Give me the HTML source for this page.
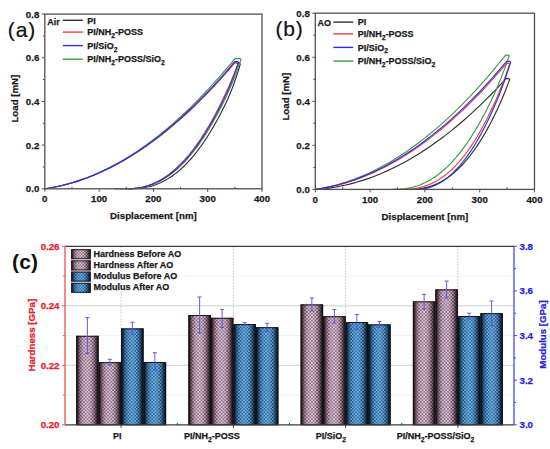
<!DOCTYPE html>
<html><head><meta charset="utf-8"><style>
html,body{margin:0;padding:0;background:#fff;width:550px;height:449px;overflow:hidden}
svg{display:block}
</style></head><body>
<svg width="550" height="449" viewBox="0 0 550 449">
<defs>
<style>
text{font-family:"Liberation Sans",sans-serif;}
.tl{font-size:9.7px;font-weight:bold;fill:#1a1a1a;stroke:#1a1a1a;stroke-width:0.25px}
.lg{font-size:9px;font-weight:bold;fill:#1a1a1a;stroke:#1a1a1a;stroke-width:0.25px}
.sub{font-size:6.8px}
.big{font-size:21px;letter-spacing:0.85px;fill:#111;stroke:#111;stroke-width:0.2px}
.lr{font-size:9.7px;font-weight:bold;fill:#e8202a;stroke:#e8202a;stroke-width:0.25px}
.lb{font-size:9.7px;font-weight:bold;fill:#2424e0;stroke:#2424e0;stroke-width:0.25px}
</style>
<linearGradient id="gp" x1="0" x2="1" y1="0" y2="0">
<stop offset="0" stop-color="#0e080c"/><stop offset="0.06" stop-color="#2a1a24"/><stop offset="0.18" stop-color="#7a5a6e"/><stop offset="0.32" stop-color="#b698ae"/><stop offset="0.5" stop-color="#c6a8be"/><stop offset="0.65" stop-color="#b292a8"/><stop offset="0.8" stop-color="#6c4e62"/><stop offset="0.92" stop-color="#2a1a24"/><stop offset="1" stop-color="#0e080c"/>
</linearGradient>
<linearGradient id="gb" x1="0" x2="1" y1="0" y2="0">
<stop offset="0" stop-color="#040810"/><stop offset="0.06" stop-color="#0a1a30"/><stop offset="0.18" stop-color="#285888"/><stop offset="0.32" stop-color="#4888c2"/><stop offset="0.5" stop-color="#569ed8"/><stop offset="0.65" stop-color="#488ac6"/><stop offset="0.8" stop-color="#22507c"/><stop offset="0.92" stop-color="#0a1a30"/><stop offset="1" stop-color="#040810"/>
</linearGradient>
<pattern id="chkp" width="3.4" height="3.4" patternUnits="userSpaceOnUse">
<rect width="1.7" height="1.7" fill="#ffe8f8" fill-opacity="0.45"/><rect x="1.7" y="1.7" width="1.7" height="1.7" fill="#ffe8f8" fill-opacity="0.45"/>
<rect x="1.7" width="1.7" height="1.7" fill="#100008" fill-opacity="0.26"/><rect y="1.7" width="1.7" height="1.7" fill="#100008" fill-opacity="0.26"/>
</pattern>
<pattern id="chkb" width="3.4" height="3.4" patternUnits="userSpaceOnUse">
<rect width="1.7" height="1.7" fill="#8cd0ff" fill-opacity="0.45"/><rect x="1.7" y="1.7" width="1.7" height="1.7" fill="#8cd0ff" fill-opacity="0.45"/>
<rect x="1.7" width="1.7" height="1.7" fill="#000818" fill-opacity="0.28"/><rect y="1.7" width="1.7" height="1.7" fill="#000818" fill-opacity="0.28"/>
</pattern>
<pattern id="chkp2" width="3" height="3" patternUnits="userSpaceOnUse">
<rect width="1.5" height="1.5" fill="#ffe8f8" fill-opacity="0.45"/><rect x="1.5" y="1.5" width="1.5" height="1.5" fill="#ffe8f8" fill-opacity="0.45"/>
<rect x="1.5" width="1.5" height="1.5" fill="#100008" fill-opacity="0.26"/><rect y="1.5" width="1.5" height="1.5" fill="#100008" fill-opacity="0.26"/>
</pattern>
<pattern id="chkb2" width="3" height="3" patternUnits="userSpaceOnUse">
<rect width="1.5" height="1.5" fill="#8cd0ff" fill-opacity="0.45"/><rect x="1.5" y="1.5" width="1.5" height="1.5" fill="#8cd0ff" fill-opacity="0.45"/>
<rect x="1.5" width="1.5" height="1.5" fill="#000818" fill-opacity="0.28"/><rect y="1.5" width="1.5" height="1.5" fill="#000818" fill-opacity="0.28"/>
</pattern>
<linearGradient id="mg" x1="0" x2="1" y1="0" y2="0">
<stop offset="0" stop-color="#fff" stop-opacity="0"/><stop offset="0.1" stop-color="#fff" stop-opacity="0.3"/><stop offset="0.25" stop-color="#fff" stop-opacity="1"/><stop offset="0.75" stop-color="#fff" stop-opacity="1"/><stop offset="0.9" stop-color="#fff" stop-opacity="0.35"/><stop offset="1" stop-color="#fff" stop-opacity="0"/>
</linearGradient>
<mask id="mk" maskContentUnits="objectBoundingBox"><rect width="1" height="1" fill="url(#mg)"/></mask>
</defs>
<rect width="550" height="449" fill="#fff"/>
<path d="M44.8,188.8 L48.61,188.21 L52.42,187.54 L56.24,186.79 L60.05,185.96 L63.86,185.05 L67.67,184.06 L71.48,183 L75.29,181.85 L79.11,180.62 L82.92,179.32 L86.73,177.93 L90.54,176.47 L94.35,174.92 L98.17,173.3 L101.98,171.59 L105.79,169.81 L109.6,167.95 L113.41,166.01 L117.23,163.99 L121.04,161.89 L124.85,159.71 L128.66,157.45 L132.47,155.11 L136.28,152.69 L140.1,150.19 L143.91,147.61 L147.72,144.96 L151.53,142.22 L155.34,139.41 L159.16,136.51 L162.97,133.54 L166.78,130.48 L170.59,127.35 L174.4,124.14 L178.22,120.84 L182.03,117.47 L185.84,114.02 L189.65,110.49 L193.46,106.88 L197.27,103.19 L201.09,99.42 L204.9,95.57 L208.71,91.64 L212.52,87.64 L216.33,83.55 L220.15,79.38 L223.96,75.14 L227.77,70.81 L231.58,66.41 L235.39,61.92 L236.21,63.23 L239.63,63.23 L240.28,64.11 L239.04,68.22 L237.81,72.18 L236.57,76 L235.33,79.68 L234.1,83.21 L232.86,86.6 L231.62,89.85 L230.39,92.95 L229.15,95.9 L227.91,98.72 L226.67,101.39 L225.44,103.97 L224.2,106.51 L222.96,109 L221.73,111.45 L220.49,113.85 L219.25,116.21 L218.02,118.53 L216.78,120.8 L215.54,123.03 L214.31,125.22 L213.07,127.37 L211.83,129.47 L210.6,131.54 L209.36,133.56 L208.12,135.53 L206.89,137.47 L205.65,139.37 L204.41,141.22 L203.18,143.04 L201.94,144.81 L200.7,146.54 L199.46,148.24 L198.23,149.89 L196.99,151.51 L195.75,153.08 L194.52,154.62 L193.28,156.12 L192.04,157.58 L190.81,159 L189.57,160.38 L188.33,161.73 L187.1,163.03 L185.86,164.3 L184.62,165.54 L183.39,166.74 L182.15,167.9 L180.91,169.02 L179.68,170.11 L178.44,171.17 L177.2,172.19 L175.96,173.17 L174.73,174.12 L173.49,175.04 L172.25,175.92 L171.02,176.77 L169.78,177.59 L168.54,178.37 L167.31,179.12 L166.07,179.84 L164.83,180.52 L163.6,181.18 L162.36,181.8 L161.12,182.4 L159.89,182.96 L158.65,183.5 L157.41,184 L156.18,184.48 L154.94,184.93 L153.7,185.35 L152.46,185.74 L151.23,186.1 L149.99,186.44 L148.75,186.76 L147.52,187.04 L146.28,187.31 L145.04,187.55 L143.81,187.76 L142.57,187.95 L141.33,188.12 L140.1,188.27 L138.86,188.4 L137.62,188.51 L136.39,188.6 L135.15,188.67 L133.91,188.72 L132.68,188.76 L131.44,188.78 L130.2,188.8 L128.97,188.8" fill="none" stroke="#303030" stroke-width="1.15" stroke-linejoin="round"/>
<path d="M44.8,188.8 L48.6,188.21 L52.4,187.54 L56.2,186.8 L60,185.97 L63.8,185.06 L67.61,184.08 L71.41,183.01 L75.21,181.87 L79.01,180.65 L82.81,179.35 L86.61,177.97 L90.41,176.51 L94.21,174.97 L98.01,173.35 L101.81,171.65 L105.62,169.87 L109.42,168.02 L113.22,166.08 L117.02,164.07 L120.82,161.98 L124.62,159.8 L128.42,157.55 L132.22,155.22 L136.02,152.81 L139.82,150.32 L143.63,147.75 L147.43,145.11 L151.23,142.38 L155.03,139.57 L158.83,136.69 L162.63,133.72 L166.43,130.68 L170.23,127.56 L174.03,124.36 L177.83,121.07 L181.64,117.71 L185.44,114.28 L189.24,110.76 L193.04,107.16 L196.84,103.48 L200.64,99.73 L204.44,95.89 L208.24,91.98 L212.04,87.98 L215.84,83.91 L219.65,79.76 L223.45,75.53 L227.25,71.22 L231.05,66.83 L234.85,62.36 L235.66,62.58 L237.46,62.58 L238.11,63.45 L236.86,66.74 L235.61,69.97 L234.36,73.13 L233.11,76.23 L231.86,79.27 L230.61,82.25 L229.36,85.16 L228.11,88.01 L226.86,90.8 L225.61,93.53 L224.36,96.2 L223.11,98.82 L221.86,101.4 L220.61,103.94 L219.37,106.43 L218.12,108.88 L216.87,111.3 L215.62,113.67 L214.37,116 L213.12,118.29 L211.87,120.53 L210.62,122.74 L209.37,124.91 L208.12,127.04 L206.87,129.13 L205.62,131.17 L204.37,133.18 L203.12,135.15 L201.87,137.08 L200.62,138.97 L199.37,140.82 L198.12,142.63 L196.87,144.41 L195.62,146.14 L194.38,147.84 L193.13,149.5 L191.88,151.12 L190.63,152.7 L189.38,154.25 L188.13,155.75 L186.88,157.22 L185.63,158.66 L184.38,160.05 L183.13,161.41 L181.88,162.74 L180.63,164.02 L179.38,165.27 L178.13,166.49 L176.88,167.67 L175.63,168.81 L174.38,169.92 L173.13,170.99 L171.88,172.03 L170.63,173.03 L169.39,174 L168.14,174.94 L166.89,175.84 L165.64,176.71 L164.39,177.54 L163.14,178.34 L161.89,179.11 L160.64,179.85 L159.39,180.55 L158.14,181.22 L156.89,181.86 L155.64,182.47 L154.39,183.05 L153.14,183.6 L151.89,184.12 L150.64,184.6 L149.39,185.06 L148.14,185.49 L146.89,185.89 L145.64,186.26 L144.4,186.61 L143.15,186.92 L141.9,187.21 L140.65,187.47 L139.4,187.71 L138.15,187.92 L136.9,188.11 L135.65,188.27 L134.4,188.41 L133.15,188.52 L131.9,188.62 L130.65,188.69 L129.4,188.74 L128.15,188.78 L126.9,188.8 L125.65,188.8" fill="none" stroke="#ee3e44" stroke-width="1.15" stroke-linejoin="round"/>
<path d="M44.8,188.8 L48.6,188.21 L52.4,187.54 L56.2,186.78 L60,185.94 L63.8,185.03 L67.61,184.02 L71.41,182.94 L75.21,181.78 L79.01,180.53 L82.81,179.2 L86.61,177.79 L90.41,176.29 L94.21,174.72 L98.01,173.06 L101.81,171.32 L105.62,169.49 L109.42,167.59 L113.22,165.6 L117.02,163.53 L120.82,161.38 L124.62,159.15 L128.42,156.83 L132.22,154.43 L136.02,151.95 L139.82,149.39 L143.63,146.75 L147.43,144.02 L151.23,141.21 L155.03,138.32 L158.83,135.35 L162.63,132.3 L166.43,129.16 L170.23,125.94 L174.03,122.64 L177.83,119.26 L181.64,115.79 L185.44,112.24 L189.24,108.61 L193.04,104.9 L196.84,101.11 L200.64,97.23 L204.44,93.27 L208.24,89.23 L212.04,85.11 L215.84,80.9 L219.65,76.62 L223.45,72.25 L227.25,67.8 L231.05,63.26 L234.85,58.65 L235.66,58.65 L240.33,58.65 L240.99,59.52 L239.7,63.22 L238.42,66.83 L237.14,70.34 L235.86,73.76 L234.58,77.08 L233.3,80.31 L232.02,83.44 L230.73,86.48 L229.45,89.43 L228.17,92.28 L226.89,95.04 L225.61,97.75 L224.33,100.42 L223.05,103.04 L221.76,105.62 L220.48,108.15 L219.2,110.64 L217.92,113.08 L216.64,115.48 L215.36,117.84 L214.07,120.15 L212.79,122.42 L211.51,124.64 L210.23,126.83 L208.95,128.97 L207.67,131.07 L206.39,133.12 L205.1,135.14 L203.82,137.11 L202.54,139.04 L201.26,140.93 L199.98,142.78 L198.7,144.58 L197.42,146.35 L196.13,148.07 L194.85,149.76 L193.57,151.4 L192.29,153.01 L191.01,154.57 L189.73,156.1 L188.45,157.58 L187.16,159.03 L185.88,160.44 L184.6,161.81 L183.32,163.14 L182.04,164.44 L180.76,165.69 L179.47,166.91 L178.19,168.09 L176.91,169.24 L175.63,170.35 L174.35,171.42 L173.07,172.45 L171.79,173.45 L170.5,174.42 L169.22,175.34 L167.94,176.24 L166.66,177.1 L165.38,177.92 L164.1,178.71 L162.82,179.47 L161.53,180.19 L160.25,180.89 L158.97,181.54 L157.69,182.17 L156.41,182.77 L155.13,183.33 L153.85,183.86 L152.56,184.36 L151.28,184.83 L150,185.28 L148.72,185.69 L147.44,186.07 L146.16,186.43 L144.87,186.76 L143.59,187.06 L142.31,187.33 L141.03,187.58 L139.75,187.8 L138.47,188 L137.19,188.17 L135.9,188.32 L134.62,188.45 L133.34,188.55 L132.06,188.64 L130.78,188.7 L129.5,188.75 L128.22,188.78 L126.93,188.8 L125.65,188.8 L114.3,188.8" fill="none" stroke="#3c9c44" stroke-width="1.15" stroke-linejoin="round"/>
<path d="M44.8,188.8 L48.6,188.21 L52.4,187.54 L56.2,186.79 L60,185.96 L63.8,185.05 L67.61,184.07 L71.41,183 L75.21,181.85 L79.01,180.62 L82.81,179.31 L86.61,177.92 L90.41,176.45 L94.21,174.91 L98.01,173.28 L101.81,171.57 L105.62,169.78 L109.42,167.92 L113.22,165.97 L117.02,163.94 L120.82,161.84 L124.62,159.65 L128.42,157.38 L132.22,155.04 L136.02,152.61 L139.82,150.1 L143.63,147.52 L147.43,144.85 L151.23,142.1 L155.03,139.28 L158.83,136.37 L162.63,133.39 L166.43,130.32 L170.23,127.18 L174.03,123.95 L177.83,120.65 L181.64,117.26 L185.44,113.8 L189.24,110.25 L193.04,106.63 L196.84,102.92 L200.64,99.14 L204.44,95.28 L208.24,91.33 L212.04,87.31 L215.84,83.2 L219.65,79.02 L223.45,74.76 L227.25,70.41 L231.05,65.99 L234.85,61.49 L235.66,61.49 L238,61.49 L238.65,62.36 L237.4,65.99 L236.14,69.53 L234.88,72.97 L233.63,76.31 L232.37,79.56 L231.12,82.71 L229.86,85.77 L228.61,88.73 L227.35,91.6 L226.1,94.37 L224.84,97.05 L223.58,99.68 L222.33,102.25 L221.07,104.79 L219.82,107.28 L218.56,109.73 L217.31,112.14 L216.05,114.51 L214.8,116.84 L213.54,119.12 L212.28,121.37 L211.03,123.57 L209.77,125.73 L208.52,127.85 L207.26,129.93 L206.01,131.97 L204.75,133.97 L203.5,135.93 L202.24,137.85 L200.98,139.73 L199.73,141.57 L198.47,143.37 L197.22,145.14 L195.96,146.86 L194.71,148.54 L193.45,150.19 L192.2,151.8 L190.94,153.37 L189.69,154.9 L188.43,156.39 L187.17,157.85 L185.92,159.26 L184.66,160.64 L183.41,161.99 L182.15,163.3 L180.9,164.57 L179.64,165.8 L178.39,167 L177.13,168.16 L175.87,169.29 L174.62,170.38 L173.36,171.44 L172.11,172.46 L170.85,173.45 L169.6,174.4 L168.34,175.32 L167.09,176.21 L165.83,177.06 L164.57,177.87 L163.32,178.66 L162.06,179.41 L160.81,180.13 L159.55,180.82 L158.3,181.48 L157.04,182.1 L155.79,182.7 L154.53,183.26 L153.27,183.79 L152.02,184.3 L150.76,184.77 L149.51,185.21 L148.25,185.63 L147,186.01 L145.74,186.37 L144.49,186.7 L143.23,187.01 L141.97,187.29 L140.72,187.54 L139.46,187.77 L138.21,187.97 L136.95,188.14 L135.7,188.3 L134.44,188.43 L133.19,188.54 L131.93,188.63 L130.67,188.7 L129.42,188.75 L128.16,188.78 L126.91,188.8 L125.65,188.8" fill="none" stroke="#2e2ee8" stroke-width="1.15" stroke-linejoin="round"/>
<rect x="44.8" y="14.1" width="217.2" height="174.7" fill="none" stroke="#505050" stroke-width="1.3"/>
<path d="M44.8,188.8 v3 M99.1,188.8 v3 M153.4,188.8 v3 M207.7,188.8 v3 M262,188.8 v3 M71.95,188.8 v-2 M126.25,188.8 v-2 M180.55,188.8 v-2 M234.85,188.8 v-2 M44.8,188.8 h-3 M44.8,145.12 h-3 M44.8,101.45 h-3 M44.8,57.78 h-3 M44.8,14.1 h-3 M44.8,166.96 h-2 M44.8,123.29 h-2 M44.8,79.61 h-2 M44.8,35.94 h-2" stroke="#505050" stroke-width="1" fill="none"/>
<text x="44.8" y="202.4" text-anchor="middle" class="tl">0</text>
<text x="99.1" y="202.4" text-anchor="middle" class="tl">100</text>
<text x="153.4" y="202.4" text-anchor="middle" class="tl">200</text>
<text x="207.7" y="202.4" text-anchor="middle" class="tl">300</text>
<text x="262" y="202.4" text-anchor="middle" class="tl">400</text>
<text x="39.3" y="192.3" text-anchor="end" class="tl">0.0</text>
<text x="39.3" y="148.62" text-anchor="end" class="tl">0.2</text>
<text x="39.3" y="104.95" text-anchor="end" class="tl">0.4</text>
<text x="39.3" y="61.28" text-anchor="end" class="tl">0.6</text>
<text x="39.3" y="17.6" text-anchor="end" class="tl">0.8</text>
<text x="153.4" y="219.2" text-anchor="middle" class="tl">Displacement [nm]</text>
<text transform="translate(18.4,98.6) rotate(-90)" text-anchor="middle" class="tl">Load [mN]</text>
<text x="7.8" y="37" class="big">(a)</text>
<text x="47.3" y="24.5" class="lg">Air</text>
<path d="M62.8,20.3 h20" stroke="#303030" stroke-width="1.4"/>
<text x="87.2" y="23.5" class="lg">PI</text>
<path d="M62.8,32.1 h20" stroke="#ee3e44" stroke-width="1.4"/>
<text x="87.2" y="35.3" class="lg">PI/NH<tspan class="sub" dy="2.8">2</tspan><tspan dy="-2.8">-POSS</tspan></text>
<path d="M62.8,45.6 h20" stroke="#2e2ee8" stroke-width="1.4"/>
<text x="87.2" y="48.8" class="lg">PI/SiO<tspan class="sub" dy="2.8">2</tspan></text>
<path d="M62.8,59.2 h20" stroke="#3c9c44" stroke-width="1.4"/>
<text x="87.2" y="62.4" class="lg">PI/NH<tspan class="sub" dy="2.8">2</tspan><tspan dy="-2.8">-POSS/SiO</tspan><tspan class="sub" dy="2.8">2</tspan></text>
<path d="M315.3,189.4 L319.11,189.13 L322.93,188.77 L326.74,188.34 L330.56,187.83 L334.37,187.23 L338.18,186.56 L342,185.81 L345.81,184.98 L349.63,184.08 L353.44,183.09 L357.25,182.02 L361.07,180.87 L364.88,179.65 L368.7,178.34 L372.51,176.96 L376.33,175.5 L380.14,173.95 L383.95,172.33 L387.77,170.63 L391.58,168.85 L395.4,166.99 L399.21,165.05 L403.02,163.04 L406.84,160.94 L410.65,158.76 L414.47,156.51 L418.28,154.17 L422.09,151.76 L425.91,149.27 L429.72,146.7 L433.54,144.04 L437.35,141.31 L441.16,138.5 L444.98,135.61 L448.79,132.65 L452.61,129.6 L456.42,126.47 L460.24,123.27 L464.05,119.98 L467.86,116.62 L471.68,113.17 L475.49,109.65 L479.31,106.05 L483.12,102.37 L486.93,98.61 L490.75,94.77 L494.56,90.85 L498.38,86.85 L502.19,82.77 L506,78.61 L506.83,78.61 L508.96,78.61 L509.62,79.5 L508.48,82.58 L507.35,85.61 L506.21,88.57 L505.07,91.47 L503.93,94.3 L502.8,97.07 L501.66,99.78 L500.52,102.42 L499.38,105 L498.25,107.52 L497.11,109.97 L495.97,112.36 L494.83,114.7 L493.7,117 L492.56,119.26 L491.42,121.47 L490.28,123.65 L489.15,125.78 L488.01,127.87 L486.87,129.92 L485.74,131.93 L484.6,133.9 L483.46,135.83 L482.32,137.72 L481.19,139.57 L480.05,141.39 L478.91,143.16 L477.77,144.89 L476.64,146.59 L475.5,148.25 L474.36,149.87 L473.22,151.45 L472.09,153 L470.95,154.5 L469.81,155.98 L468.67,157.41 L467.54,158.81 L466.4,160.17 L465.26,161.49 L464.12,162.78 L462.99,164.04 L461.85,165.26 L460.71,166.44 L459.58,167.59 L458.44,168.71 L457.3,169.79 L456.16,170.84 L455.03,171.85 L453.89,172.84 L452.75,173.79 L451.61,174.7 L450.48,175.59 L449.34,176.44 L448.2,177.26 L447.06,178.05 L445.93,178.81 L444.79,179.54 L443.65,180.24 L442.51,180.91 L441.38,181.55 L440.24,182.16 L439.1,182.74 L437.96,183.3 L436.83,183.82 L435.69,184.32 L434.55,184.79 L433.41,185.24 L432.28,185.66 L431.14,186.05 L430,186.42 L428.87,186.76 L427.73,187.08 L426.59,187.38 L425.45,187.65 L424.32,187.9 L423.18,188.13 L422.04,188.34 L420.9,188.52 L419.77,188.69 L418.63,188.83 L417.49,188.96 L416.35,189.07 L415.22,189.16 L414.08,189.23 L412.94,189.29 L411.8,189.34 L410.67,189.37 L409.53,189.39 L408.39,189.4 L407.25,189.4" fill="none" stroke="#303030" stroke-width="1.15" stroke-linejoin="round"/>
<path d="M315.3,189.4 L319.11,188.8 L322.91,188.11 L326.72,187.33 L330.53,186.47 L334.33,185.53 L338.14,184.5 L341.94,183.38 L345.75,182.19 L349.56,180.9 L353.36,179.53 L357.17,178.08 L360.98,176.54 L364.78,174.91 L368.59,173.2 L372.4,171.41 L376.2,169.53 L380.01,167.57 L383.82,165.52 L387.62,163.38 L391.43,161.16 L395.23,158.86 L399.04,156.47 L402.85,153.99 L406.65,151.43 L410.46,148.79 L414.27,146.06 L418.07,143.25 L421.88,140.35 L425.69,137.36 L429.49,134.29 L433.3,131.14 L437.11,127.9 L440.91,124.57 L444.72,121.16 L448.52,117.67 L452.33,114.09 L456.14,110.42 L459.94,106.67 L463.75,102.84 L467.56,98.92 L471.36,94.92 L475.17,90.83 L478.98,86.65 L482.78,82.39 L486.59,78.05 L490.39,73.62 L494.2,69.1 L498.01,64.5 L501.81,59.82 L505.62,55.05 L506.44,55.05 L508.42,55.05 L509.07,55.93 L507.78,59.74 L506.48,63.46 L505.19,67.08 L503.89,70.61 L502.6,74.04 L501.31,77.38 L500.01,80.63 L498.72,83.78 L497.42,86.84 L496.13,89.8 L494.83,92.68 L493.54,95.5 L492.24,98.27 L490.95,100.99 L489.66,103.67 L488.36,106.3 L487.07,108.89 L485.77,111.43 L484.48,113.92 L483.18,116.36 L481.89,118.76 L480.59,121.12 L479.3,123.43 L478,125.69 L476.71,127.91 L475.42,130.09 L474.12,132.22 L472.83,134.3 L471.53,136.34 L470.24,138.34 L468.94,140.3 L467.65,142.21 L466.35,144.08 L465.06,145.9 L463.77,147.68 L462.47,149.42 L461.18,151.12 L459.88,152.78 L458.59,154.39 L457.29,155.97 L456,157.5 L454.7,158.99 L453.41,160.44 L452.11,161.85 L450.82,163.22 L449.53,164.55 L448.23,165.85 L446.94,167.1 L445.64,168.31 L444.35,169.49 L443.05,170.62 L441.76,171.72 L440.46,172.79 L439.17,173.81 L437.88,174.8 L436.58,175.75 L435.29,176.66 L433.99,177.54 L432.7,178.38 L431.4,179.19 L430.11,179.96 L428.81,180.7 L427.52,181.41 L426.22,182.08 L424.93,182.72 L423.64,183.32 L422.34,183.89 L421.05,184.43 L419.75,184.94 L418.46,185.42 L417.16,185.87 L415.87,186.28 L414.57,186.67 L413.28,187.03 L411.99,187.36 L410.69,187.66 L409.4,187.94 L408.1,188.18 L406.81,188.41 L405.51,188.6 L404.22,188.78 L402.92,188.93 L401.63,189.05 L400.33,189.16 L399.04,189.24 L397.75,189.31 L396.45,189.35 L395.16,189.38 L393.86,189.4 L392.57,189.4 L401.34,189.4" fill="none" stroke="#3c9c44" stroke-width="1.15" stroke-linejoin="round"/>
<path d="M315.3,189.4 L319.13,188.87 L322.95,188.25 L326.78,187.56 L330.6,186.78 L334.43,185.92 L338.25,184.98 L342.08,183.96 L345.9,182.86 L349.73,181.68 L353.55,180.42 L357.38,179.07 L361.2,177.65 L365.03,176.14 L368.85,174.55 L372.68,172.89 L376.5,171.14 L380.33,169.31 L384.15,167.39 L387.98,165.4 L391.8,163.33 L395.63,161.17 L399.45,158.94 L403.28,156.62 L407.1,154.22 L410.93,151.74 L414.75,149.18 L418.58,146.54 L422.4,143.82 L426.23,141.02 L430.05,138.13 L433.88,135.17 L437.7,132.12 L441.53,128.99 L445.35,125.78 L449.18,122.49 L453,119.12 L456.83,115.67 L460.65,112.14 L464.48,108.52 L468.3,104.83 L472.13,101.05 L475.95,97.19 L479.78,93.26 L483.6,89.24 L487.43,85.14 L491.25,80.95 L495.08,76.69 L498.9,72.35 L502.73,67.92 L506.55,63.42 L507.37,63.42 L508.96,63.42 L509.62,64.3 L508.41,67.8 L507.2,71.22 L505.99,74.58 L504.78,77.87 L503.57,81.08 L502.37,84.23 L501.16,87.31 L499.95,90.31 L498.74,93.25 L497.53,96.12 L496.32,98.92 L495.11,101.66 L493.9,104.34 L492.69,106.98 L491.48,109.57 L490.27,112.11 L489.06,114.6 L487.85,117.04 L486.64,119.44 L485.44,121.79 L484.23,124.1 L483.02,126.35 L481.81,128.56 L480.6,130.73 L479.39,132.85 L478.18,134.92 L476.97,136.95 L475.76,138.93 L474.55,140.87 L473.34,142.77 L472.13,144.62 L470.92,146.42 L469.72,148.19 L468.51,149.91 L467.3,151.58 L466.09,153.22 L464.88,154.81 L463.67,156.36 L462.46,157.87 L461.25,159.34 L460.04,160.77 L458.83,162.16 L457.62,163.51 L456.41,164.81 L455.2,166.08 L454,167.31 L452.79,168.5 L451.58,169.65 L450.37,170.77 L449.16,171.84 L447.95,172.88 L446.74,173.88 L445.53,174.85 L444.32,175.78 L443.11,176.67 L441.9,177.53 L440.69,178.35 L439.48,179.14 L438.27,179.9 L437.07,180.62 L435.86,181.31 L434.65,181.96 L433.44,182.59 L432.23,183.18 L431.02,183.74 L429.81,184.27 L428.6,184.77 L427.39,185.24 L426.18,185.68 L424.97,186.09 L423.76,186.48 L422.55,186.84 L421.35,187.17 L420.14,187.47 L418.93,187.75 L417.72,188 L416.51,188.23 L415.3,188.43 L414.09,188.62 L412.88,188.78 L411.67,188.92 L410.46,189.04 L409.25,189.14 L408.04,189.22 L406.83,189.28 L405.63,189.33 L404.42,189.37 L403.21,189.39 L402,189.4 L400.79,189.4 L394.76,189.4" fill="none" stroke="#ee3e44" stroke-width="1.15" stroke-linejoin="round"/>
<path d="M315.3,189.4 L319.13,188.82 L322.95,188.17 L326.78,187.43 L330.6,186.61 L334.43,185.71 L338.25,184.73 L342.08,183.67 L345.9,182.52 L349.73,181.3 L353.55,179.99 L357.38,178.61 L361.2,177.14 L365.03,175.59 L368.85,173.97 L372.68,172.26 L376.5,170.47 L380.33,168.59 L384.15,166.64 L387.98,164.61 L391.8,162.49 L395.63,160.3 L399.45,158.02 L403.28,155.67 L407.1,153.23 L410.93,150.71 L414.75,148.11 L418.58,145.43 L422.4,142.67 L426.23,139.83 L430.05,136.9 L433.88,133.9 L437.7,130.81 L441.53,127.65 L445.35,124.4 L449.18,121.07 L453,117.66 L456.83,114.17 L460.65,110.6 L464.48,106.95 L468.3,103.21 L472.13,99.4 L475.95,95.51 L479.78,91.53 L483.6,87.47 L487.43,83.34 L491.25,79.12 L495.08,74.82 L498.9,70.44 L502.73,65.98 L506.55,61.43 L507.37,61.43 L509.95,61.43 L510.61,62.32 L509.55,65.68 L508.49,68.97 L507.43,72.19 L506.38,75.35 L505.32,78.43 L504.26,81.45 L503.2,84.4 L502.15,87.28 L501.09,90.09 L500.03,92.83 L498.97,95.5 L497.92,98.1 L496.86,100.64 L495.8,103.13 L494.74,105.57 L493.68,107.98 L492.63,110.35 L491.57,112.68 L490.51,114.98 L489.45,117.24 L488.4,119.46 L487.34,121.64 L486.28,123.79 L485.22,125.89 L484.17,127.96 L483.11,130 L482.05,132 L480.99,133.96 L479.94,135.88 L478.88,137.77 L477.82,139.62 L476.76,141.43 L475.71,143.21 L474.65,144.95 L473.59,146.66 L472.53,148.33 L471.47,149.96 L470.42,151.56 L469.36,153.12 L468.3,154.65 L467.24,156.14 L466.19,157.6 L465.13,159.02 L464.07,160.41 L463.01,161.76 L461.96,163.07 L460.9,164.36 L459.84,165.6 L458.78,166.82 L457.73,168 L456.67,169.14 L455.61,170.25 L454.55,171.33 L453.49,172.37 L452.44,173.38 L451.38,174.36 L450.32,175.31 L449.26,176.22 L448.21,177.1 L447.15,177.94 L446.09,178.75 L445.03,179.54 L443.98,180.28 L442.92,181 L441.86,181.69 L440.8,182.34 L439.75,182.97 L438.69,183.56 L437.63,184.12 L436.57,184.65 L435.51,185.15 L434.46,185.62 L433.4,186.06 L432.34,186.47 L431.28,186.86 L430.23,187.21 L429.17,187.54 L428.11,187.83 L427.05,188.1 L426,188.35 L424.94,188.56 L423.88,188.75 L422.82,188.91 L421.77,189.05 L420.71,189.17 L419.65,189.26 L418.59,189.32 L417.53,189.37 L416.48,189.39 L415.42,189.4" fill="none" stroke="#2e2ee8" stroke-width="1.15" stroke-linejoin="round"/>
<rect x="315.3" y="13.2" width="219.2" height="176.2" fill="none" stroke="#505050" stroke-width="1.3"/>
<path d="M315.3,189.4 v3 M370.1,189.4 v3 M424.9,189.4 v3 M479.7,189.4 v3 M534.5,189.4 v3 M342.7,189.4 v-2 M397.5,189.4 v-2 M452.3,189.4 v-2 M507.1,189.4 v-2 M315.3,189.4 h-3 M315.3,145.35 h-3 M315.3,101.3 h-3 M315.3,57.25 h-3 M315.3,13.2 h-3 M315.3,167.38 h-2 M315.3,123.33 h-2 M315.3,79.28 h-2 M315.3,35.22 h-2" stroke="#505050" stroke-width="1" fill="none"/>
<text x="315.3" y="203" text-anchor="middle" class="tl">0</text>
<text x="370.1" y="203" text-anchor="middle" class="tl">100</text>
<text x="424.9" y="203" text-anchor="middle" class="tl">200</text>
<text x="479.7" y="203" text-anchor="middle" class="tl">300</text>
<text x="534.5" y="203" text-anchor="middle" class="tl">400</text>
<text x="309.8" y="192.9" text-anchor="end" class="tl">0.0</text>
<text x="309.8" y="148.85" text-anchor="end" class="tl">0.2</text>
<text x="309.8" y="104.8" text-anchor="end" class="tl">0.4</text>
<text x="309.8" y="60.75" text-anchor="end" class="tl">0.6</text>
<text x="309.8" y="16.7" text-anchor="end" class="tl">0.8</text>
<text x="424.9" y="219.8" text-anchor="middle" class="tl">Displacement [nm]</text>
<text transform="translate(288.9,96.6) rotate(-90)" text-anchor="middle" class="tl">Load [mN]</text>
<text x="275.5" y="36.3" class="big">(b)</text>
<text x="317.6" y="25.6" class="lg">AO</text>
<path d="M333.3,22.1 h20" stroke="#303030" stroke-width="1.4"/>
<text x="357.7" y="25.3" class="lg">PI</text>
<path d="M333.3,33.9 h20" stroke="#ee3e44" stroke-width="1.4"/>
<text x="357.7" y="37.1" class="lg">PI/NH<tspan class="sub" dy="2.8">2</tspan><tspan dy="-2.8">-POSS</tspan></text>
<path d="M333.3,47.4 h20" stroke="#2e2ee8" stroke-width="1.4"/>
<text x="357.7" y="50.6" class="lg">PI/SiO<tspan class="sub" dy="2.8">2</tspan></text>
<path d="M333.3,61 h20" stroke="#3c9c44" stroke-width="1.4"/>
<text x="357.7" y="64.2" class="lg">PI/NH<tspan class="sub" dy="2.8">2</tspan><tspan dy="-2.8">-POSS/SiO</tspan><tspan class="sub" dy="2.8">2</tspan></text>
<path d="M65,395.05 H514" stroke="#f3f3f3" stroke-width="1"/>
<path d="M65,335.55 H514" stroke="#f3f3f3" stroke-width="1"/>
<path d="M65,276.05 H514" stroke="#f3f3f3" stroke-width="1"/>
<path d="M65,365.3 H514" stroke="#d0d0d0" stroke-width="1"/>
<path d="M65,305.8 H514" stroke="#d0d0d0" stroke-width="1"/>
<path d="M121.12,246.3 V424.8" stroke="#8a8ae0" stroke-width="0.7" stroke-dasharray="1.5,1.5" stroke-opacity="0.8"/>
<path d="M233.38,246.3 V424.8" stroke="#8a8ae0" stroke-width="0.7" stroke-dasharray="1.5,1.5" stroke-opacity="0.8"/>
<path d="M345.62,246.3 V424.8" stroke="#8a8ae0" stroke-width="0.7" stroke-dasharray="1.5,1.5" stroke-opacity="0.8"/>
<path d="M457.88,246.3 V424.8" stroke="#8a8ae0" stroke-width="0.7" stroke-dasharray="1.5,1.5" stroke-opacity="0.8"/>
<rect x="76.12" y="335.8" width="22.5" height="89" fill="url(#gp)"/>
<rect x="76.12" y="335.8" width="22.5" height="89" fill="url(#chkp)" mask="url(#mk)"/>
<rect x="76.62" y="336.3" width="21.5" height="88.5" fill="none" stroke="#151515" stroke-width="1"/>
<rect x="98.62" y="362.2" width="22.5" height="62.6" fill="url(#gp)"/>
<rect x="98.62" y="362.2" width="22.5" height="62.6" fill="url(#chkp)" mask="url(#mk)"/>
<rect x="99.12" y="362.7" width="21.5" height="62.1" fill="none" stroke="#151515" stroke-width="1"/>
<rect x="121.12" y="328.4" width="22.5" height="96.4" fill="url(#gb)"/>
<rect x="121.12" y="328.4" width="22.5" height="96.4" fill="url(#chkb)" mask="url(#mk)"/>
<rect x="121.62" y="328.9" width="21.5" height="95.9" fill="none" stroke="#151515" stroke-width="1"/>
<rect x="143.62" y="362" width="22.5" height="62.8" fill="url(#gb)"/>
<rect x="143.62" y="362" width="22.5" height="62.8" fill="url(#chkb)" mask="url(#mk)"/>
<rect x="144.12" y="362.5" width="21.5" height="62.3" fill="none" stroke="#151515" stroke-width="1"/>
<rect x="188.38" y="315" width="22.5" height="109.8" fill="url(#gp)"/>
<rect x="188.38" y="315" width="22.5" height="109.8" fill="url(#chkp)" mask="url(#mk)"/>
<rect x="188.88" y="315.5" width="21.5" height="109.3" fill="none" stroke="#151515" stroke-width="1"/>
<rect x="210.88" y="317.8" width="22.5" height="107" fill="url(#gp)"/>
<rect x="210.88" y="317.8" width="22.5" height="107" fill="url(#chkp)" mask="url(#mk)"/>
<rect x="211.38" y="318.3" width="21.5" height="106.5" fill="none" stroke="#151515" stroke-width="1"/>
<rect x="233.38" y="324" width="22.5" height="100.8" fill="url(#gb)"/>
<rect x="233.38" y="324" width="22.5" height="100.8" fill="url(#chkb)" mask="url(#mk)"/>
<rect x="233.88" y="324.5" width="21.5" height="100.3" fill="none" stroke="#151515" stroke-width="1"/>
<rect x="255.88" y="327.2" width="22.5" height="97.6" fill="url(#gb)"/>
<rect x="255.88" y="327.2" width="22.5" height="97.6" fill="url(#chkb)" mask="url(#mk)"/>
<rect x="256.38" y="327.7" width="21.5" height="97.1" fill="none" stroke="#151515" stroke-width="1"/>
<rect x="300.62" y="304.4" width="22.5" height="120.4" fill="url(#gp)"/>
<rect x="300.62" y="304.4" width="22.5" height="120.4" fill="url(#chkp)" mask="url(#mk)"/>
<rect x="301.12" y="304.9" width="21.5" height="119.9" fill="none" stroke="#151515" stroke-width="1"/>
<rect x="323.12" y="316.2" width="22.5" height="108.6" fill="url(#gp)"/>
<rect x="323.12" y="316.2" width="22.5" height="108.6" fill="url(#chkp)" mask="url(#mk)"/>
<rect x="323.62" y="316.7" width="21.5" height="108.1" fill="none" stroke="#151515" stroke-width="1"/>
<rect x="345.62" y="322" width="22.5" height="102.8" fill="url(#gb)"/>
<rect x="345.62" y="322" width="22.5" height="102.8" fill="url(#chkb)" mask="url(#mk)"/>
<rect x="346.12" y="322.5" width="21.5" height="102.3" fill="none" stroke="#151515" stroke-width="1"/>
<rect x="368.12" y="324.4" width="22.5" height="100.4" fill="url(#gb)"/>
<rect x="368.12" y="324.4" width="22.5" height="100.4" fill="url(#chkb)" mask="url(#mk)"/>
<rect x="368.62" y="324.9" width="21.5" height="99.9" fill="none" stroke="#151515" stroke-width="1"/>
<rect x="412.88" y="301.4" width="22.5" height="123.4" fill="url(#gp)"/>
<rect x="412.88" y="301.4" width="22.5" height="123.4" fill="url(#chkp)" mask="url(#mk)"/>
<rect x="413.38" y="301.9" width="21.5" height="122.9" fill="none" stroke="#151515" stroke-width="1"/>
<rect x="435.38" y="289.4" width="22.5" height="135.4" fill="url(#gp)"/>
<rect x="435.38" y="289.4" width="22.5" height="135.4" fill="url(#chkp)" mask="url(#mk)"/>
<rect x="435.88" y="289.9" width="21.5" height="134.9" fill="none" stroke="#151515" stroke-width="1"/>
<rect x="457.88" y="316" width="22.5" height="108.8" fill="url(#gb)"/>
<rect x="457.88" y="316" width="22.5" height="108.8" fill="url(#chkb)" mask="url(#mk)"/>
<rect x="458.38" y="316.5" width="21.5" height="108.3" fill="none" stroke="#151515" stroke-width="1"/>
<rect x="480.38" y="313.2" width="22.5" height="111.6" fill="url(#gb)"/>
<rect x="480.38" y="313.2" width="22.5" height="111.6" fill="url(#chkb)" mask="url(#mk)"/>
<rect x="480.88" y="313.7" width="21.5" height="111.1" fill="none" stroke="#151515" stroke-width="1"/>
<path d="M87.38,317.6 V353.6 M85.38,317.6 h4 M85.38,353.6 h4" stroke="#5548e0" stroke-width="0.9" fill="none"/>
<path d="M109.88,359.3 V365.1 M107.88,359.3 h4 M107.88,365.1 h4" stroke="#5548e0" stroke-width="0.9" fill="none"/>
<path d="M132.38,322.2 V334.2 M130.38,322.2 h4 M130.38,334.2 h4" stroke="#5548e0" stroke-width="0.9" fill="none"/>
<path d="M154.88,352.7 V370 M152.88,352.7 h4 M152.88,370 h4" stroke="#5548e0" stroke-width="0.9" fill="none"/>
<path d="M199.62,297 V333 M197.62,297 h4 M197.62,333 h4" stroke="#5548e0" stroke-width="0.9" fill="none"/>
<path d="M222.12,309.4 V327.4 M220.12,309.4 h4 M220.12,327.4 h4" stroke="#5548e0" stroke-width="0.9" fill="none"/>
<path d="M244.62,322.6 V325.2 M242.62,322.6 h4 M242.62,325.2 h4" stroke="#5548e0" stroke-width="0.9" fill="none"/>
<path d="M267.12,323.4 V331.4 M265.12,323.4 h4 M265.12,331.4 h4" stroke="#5548e0" stroke-width="0.9" fill="none"/>
<path d="M311.88,298 V311 M309.88,298 h4 M309.88,311 h4" stroke="#5548e0" stroke-width="0.9" fill="none"/>
<path d="M334.38,309.6 V323 M332.38,309.6 h4 M332.38,323 h4" stroke="#5548e0" stroke-width="0.9" fill="none"/>
<path d="M356.88,314.4 V329.4 M354.88,314.4 h4 M354.88,329.4 h4" stroke="#5548e0" stroke-width="0.9" fill="none"/>
<path d="M379.38,321.4 V327.4 M377.38,321.4 h4 M377.38,327.4 h4" stroke="#5548e0" stroke-width="0.9" fill="none"/>
<path d="M424.12,294.4 V309 M422.12,294.4 h4 M422.12,309 h4" stroke="#5548e0" stroke-width="0.9" fill="none"/>
<path d="M446.62,281 V298 M444.62,281 h4 M444.62,298 h4" stroke="#5548e0" stroke-width="0.9" fill="none"/>
<path d="M469.12,313.2 V319 M467.12,313.2 h4 M467.12,319 h4" stroke="#5548e0" stroke-width="0.9" fill="none"/>
<path d="M491.62,301 V325.6 M489.62,301 h4 M489.62,325.6 h4" stroke="#5548e0" stroke-width="0.9" fill="none"/>
<path d="M65,246.3 H514" stroke="#3a3a3a" stroke-width="1.3"/>
<path d="M65,424.8 H514" stroke="#3a3a3a" stroke-width="1.3"/>
<path d="M65,246.3 V424.8" stroke="#e8505a" stroke-width="1.3"/>
<path d="M514,246.3 V424.8" stroke="#4a4af0" stroke-width="1.3"/>
<path d="M65,424.8 h-3 M65,365.3 h-3 M65,305.8 h-3 M65,246.3 h-3 M65,395.05 h-2 M65,335.55 h-2 M65,276.05 h-2" stroke="#e8505a" stroke-width="1"/>
<path d="M514,424.8 h3 M514,380.17 h3 M514,335.55 h3 M514,290.92 h3 M514,246.3 h3 M514,402.49 h2 M514,357.86 h2 M514,313.24 h2 M514,268.61 h2" stroke="#4a4af0" stroke-width="1"/>
<path d="M121.12,424.8 v3 M233.38,424.8 v3 M345.62,424.8 v3 M457.88,424.8 v3 M177.25,424.8 v-2 M289.5,424.8 v-2 M401.75,424.8 v-2" stroke="#3a3a3a" stroke-width="1"/>
<text x="59.5" y="428.3" text-anchor="end" class="lr">0.20</text>
<text x="59.5" y="368.8" text-anchor="end" class="lr">0.22</text>
<text x="59.5" y="309.3" text-anchor="end" class="lr">0.24</text>
<text x="59.5" y="249.8" text-anchor="end" class="lr">0.26</text>
<text x="519.5" y="428.3" class="lb">3.0</text>
<text x="519.5" y="383.67" class="lb">3.2</text>
<text x="519.5" y="339.05" class="lb">3.4</text>
<text x="519.5" y="294.42" class="lb">3.6</text>
<text x="519.5" y="249.8" class="lb">3.8</text>
<text transform="translate(35.2,335.2) rotate(-90)" text-anchor="middle" class="lr">Hardness [GPa]</text>
<text transform="translate(545.5,334.5) rotate(-90)" text-anchor="middle" class="lb">Modulus [GPa]</text>
<text x="117.2" y="438.8" text-anchor="middle" class="lg">PI</text>
<text x="211.8" y="438.8" text-anchor="middle" class="lg">PI/NH<tspan class="sub" dy="2.8">2</tspan><tspan dy="-2.8">-POSS</tspan></text>
<text x="331" y="438.8" text-anchor="middle" class="lg">PI/SiO<tspan class="sub" dy="2.8">2</tspan></text>
<text x="435.6" y="438.8" text-anchor="middle" class="lg">PI/NH<tspan class="sub" dy="2.8">2</tspan><tspan dy="-2.8">-POSS/SiO</tspan><tspan class="sub" dy="2.8">2</tspan></text>
<text x="12" y="268.5" class="big" style="font-weight:bold;stroke-width:0;letter-spacing:0.2px">(c)</text>
<rect x="71.1" y="249.2" width="19.6" height="10" fill="url(#gp)"/>
<rect x="71.1" y="249.2" width="19.6" height="10" fill="url(#chkp2)" mask="url(#mk)"/>
<rect x="71.6" y="249.7" width="18.6" height="9" fill="none" stroke="#222" stroke-width="1"/>
<text x="93.5" y="256.7" class="lg">Hardness Before AO</text>
<rect x="71.1" y="260.4" width="19.6" height="10" fill="url(#gp)"/>
<rect x="71.1" y="260.4" width="19.6" height="10" fill="url(#chkp2)" mask="url(#mk)"/>
<rect x="71.6" y="260.9" width="18.6" height="9" fill="none" stroke="#222" stroke-width="1"/>
<text x="93.5" y="267.9" class="lg">Hardness After AO</text>
<rect x="71.1" y="271.6" width="19.6" height="10" fill="url(#gb)"/>
<rect x="71.1" y="271.6" width="19.6" height="10" fill="url(#chkb2)" mask="url(#mk)"/>
<rect x="71.6" y="272.1" width="18.6" height="9" fill="none" stroke="#222" stroke-width="1"/>
<text x="93.5" y="279.1" class="lg">Modulus Before AO</text>
<rect x="71.1" y="282.8" width="19.6" height="10" fill="url(#gb)"/>
<rect x="71.1" y="282.8" width="19.6" height="10" fill="url(#chkb2)" mask="url(#mk)"/>
<rect x="71.6" y="283.3" width="18.6" height="9" fill="none" stroke="#222" stroke-width="1"/>
<text x="93.5" y="290.3" class="lg">Modulus After AO</text>
</svg>
</body></html>
